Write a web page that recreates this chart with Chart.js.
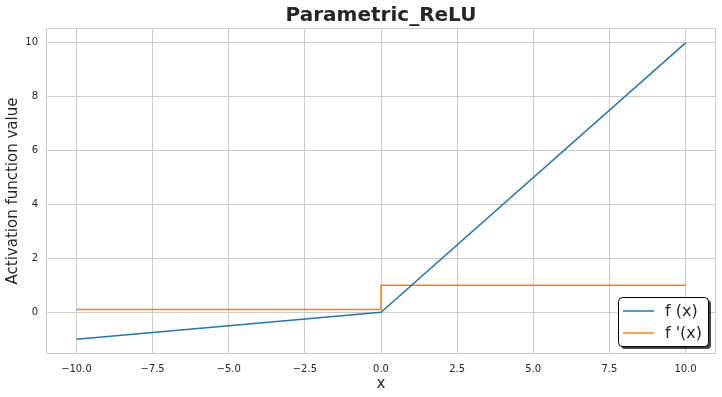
<!DOCTYPE html>
<html>
<head>
    <title>Parametric_ReLU</title>
</head>
<style>
  body { margin: 0; background: white; }
  #box { width: 722px; height: 397px; }
</style>
<body>
<div id="box">
    <canvas id="myChart"></canvas>
</div>
<script src="https://cdn.jsdelivr.net/npm/chart.js"></script>
<script>
  // dane
  const fX = [-10, 0, 10];
  const fY = [-1, 0, 10];
  const dX = [-10, 0, 0, 10];
  const dY = [0.1, 0.1, 1, 1];
  const xTicks = [-10, -7.5, -5, -2.5, 0, 2.5, 5, 7.5, 10];
  const yTicks = [0, 2, 4, 6, 8, 10];
  const seriesNames = ['f (x)', "f '(x)"];

  const FONT = 'DejaVu Sans';
  const GRID = '#cccccc';

  function pts(xs, ys) {
    return xs.map(function (x, i) { return { x: x, y: ys[i] }; });
  }

  // ramka wykresu (wszystkie 4 boki)
  const framePlugin = {
    id: 'frame',
    beforeDatasetsDraw(chart) {
      const a = chart.chartArea, c = chart.ctx;
      c.save();
      c.strokeStyle = GRID;
      c.lineWidth = 1;
      c.strokeRect(a.left + 0.5, a.top + 0.5, a.right - a.left - 1, a.bottom - a.top - 1);
      c.restore();
    }
  };

  // legenda w prawym dolnym rogu z cieniem
  const legendPlugin = {
    id: 'boxLegend',
    afterDraw(chart) {
      const c = chart.ctx, a = chart.chartArea;
      const w = 90, h = 49;
      const x = a.right - 8 - w, y = a.bottom - 8 - h;
      c.save();
      c.fillStyle = '#444';
      c.beginPath(); c.roundRect(x + 3, y + 3, w, h, 4); c.fill();
      c.fillStyle = 'white';
      c.strokeStyle = 'black';
      c.lineWidth = 1;
      c.beginPath(); c.roundRect(x + 0.5, y + 0.5, w, h, 4); c.fill(); c.stroke();
      c.font = '16px ' + FONT;
      c.textBaseline = 'middle';
      chart.data.datasets.forEach(function (ds, i) {
        const ly = y + 14 + i * 22;
        c.strokeStyle = ds.borderColor;
        c.lineWidth = 1.5;
        c.beginPath(); c.moveTo(x + 5, ly); c.lineTo(x + 36, ly); c.stroke();
        c.fillStyle = '#262626';
        c.fillText(ds.label, x + 47, ly + 1);
      });
      c.restore();
    }
  };

  function fmtX(v) {
    const s = Math.abs(v).toFixed(1);
    return v < 0 ? '\u2212' + s : s;
  }

  new Chart(document.getElementById('myChart'), {
    type: 'line',
    data: {
      datasets: [
        { label: seriesNames[0], data: pts(fX, fY), borderColor: '#1f77b4', borderWidth: 1.5, pointRadius: 0, fill: false, tension: 0 },
        { label: seriesNames[1], data: pts(dX, dY), borderColor: '#ff7f0e', borderWidth: 1.5, pointRadius: 0, fill: false, tension: 0 }
      ]
    },
    options: {
      responsive: true,
      maintainAspectRatio: false,
      animation: false,
      layout: { padding: { left: 0, right: 6, top: 0, bottom: 0 } },
      plugins: {
        legend: { display: false },
        tooltip: { enabled: false },
        title: {
          display: true,
          text: 'Parametric_ReLU',
          fullSize: false,
          color: '#262626',
          font: { family: FONT, size: 20, weight: 'bold' },
          padding: { top: 4, bottom: 0 }
        }
      },
      scales: {
        x: {
          type: 'linear',
          min: -11, max: 11,
          afterBuildTicks: function (s) { s.ticks = xTicks.map(function (v) { return { value: v }; }); },
          afterFit: function (s) { s.height = 43; },
          grid: { color: GRID, drawTicks: false },
          border: { display: false },
          ticks: {
            color: '#262626', padding: 9, maxRotation: 0,
            font: { family: FONT, size: 10 },
            callback: function (v) { return fmtX(v); }
          },
          title: { display: true, text: 'x', color: '#262626', font: { family: FONT, size: 15 }, padding: { top: 0, bottom: 4 } }
        },
        y: {
          type: 'linear',
          min: -1.55, max: 10.55,
          afterBuildTicks: function (s) { s.ticks = yTicks.map(function (v) { return { value: v }; }); },
          afterFit: function (s) { s.width = 46; },
          grid: { color: GRID, drawTicks: false },
          border: { display: false },
          ticks: {
            color: '#262626', padding: 8,
            font: { family: FONT, size: 10 },
            callback: function (v) { return String(v); }
          },
          title: { display: true, text: 'Activation function value', color: '#262626', font: { family: FONT, size: 15 }, padding: { top: 4, bottom: 0 } }
        }
      }
    },
    plugins: [framePlugin, legendPlugin]
  });
</script>
</body>
</html>
